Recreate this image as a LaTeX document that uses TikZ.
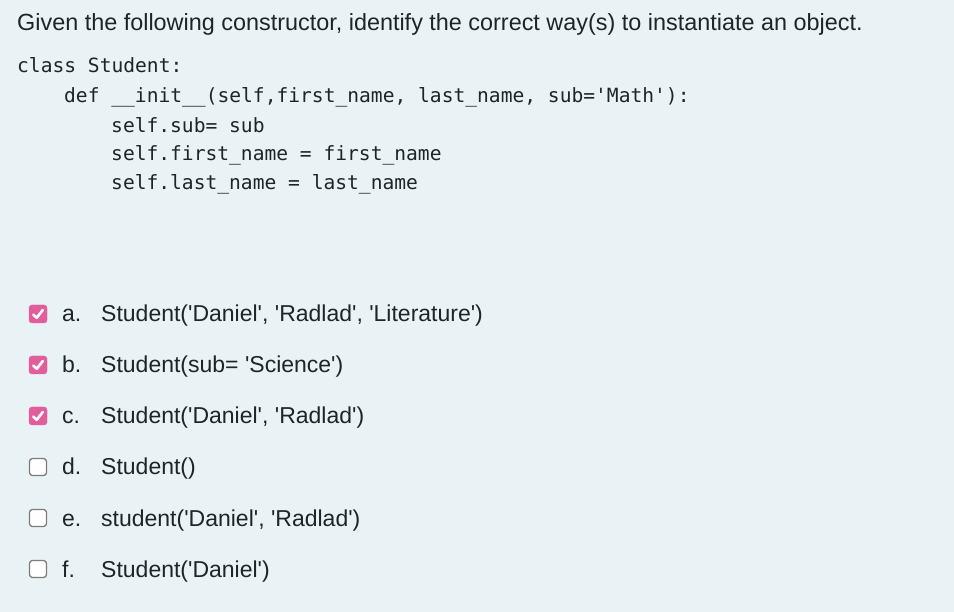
\documentclass[tikz,border=0pt]{standalone}
\usepackage{fontspec}
\setmainfont{Liberation Sans}
\setmonofont{DejaVu Sans Mono}
\definecolor{bgc}{HTML}{E9F2F5}
\definecolor{txt}{HTML}{1B262C}
\definecolor{pinkc}{HTML}{E35D9C}
\definecolor{boxgray}{HTML}{7C7C7C}
\newcommand{\sq}{\textquotesingle}
\begin{document}
\begin{tikzpicture}[x=1pt,y=-1pt,
  title/.style={anchor=base west,inner sep=0pt,text=txt,font=\fontsize{23.4}{27}\selectfont},
  code/.style={anchor=base west,inner sep=0pt,text=txt,font=\ttfamily\fontsize{19.6}{24}\selectfont},
  opt/.style={anchor=base west,inner sep=0pt,text=txt,font=\fontsize{23}{27}\selectfont},
  chk/.style={draw=pinkc,fill=pinkc,rounded corners=3pt,minimum size=18pt,inner sep=0pt},
  unchk/.style={draw=boxgray,line width=1.3pt,fill=white,rounded corners=3pt,minimum size=17pt,inner sep=0pt},
  tick/.style={draw=white,line width=2.6pt,line cap=round,line join=round}]
\fill[bgc] (0,0) rectangle (954,612);
\useasboundingbox (0,0) rectangle (954,612);
\node[title] (q) at (17,31) {Given the following constructor, identify the correct way(s) to instantiate an object.};
\node[code] (c1) at (17,73) {class Student:};
\node[code] (c2) at (64,103) {def \_\_init\_\_(self,first\_name, last\_name, sub=\sq Math\sq):};
\node[code] (c3) at (111,133) {self.sub= sub};
\node[code] (c4) at (111,161) {self.first\_name = first\_name};
\node[code] (c5) at (111,190) {self.last\_name = last\_name};
% options
\foreach \n/\y/\l/\t/\c in {a/314/a./{Student(\sq Daniel\sq, \sq Radlad\sq, \sq Literature\sq)}/1,
                             b/365/b./{Student(sub= \sq Science\sq)}/1,
                             c/416/c./{Student(\sq Daniel\sq, \sq Radlad\sq)}/1,
                             d/467/d./{Student()}/0,
                             e/518/e./{student(\sq Daniel\sq, \sq Radlad\sq)}/0,
                             f/569/f./{Student(\sq Daniel\sq)}/0}{
  \ifnum\c=1
    \node[chk] (box\n) at (38,\y) {};
    \draw[tick] ([shift={(-4.8,0.5)}]box\n.center) -- ([shift={(-1.3,3.8)}]box\n.center) -- ([shift={(4.8,-4)}]box\n.center);
  \else
    \node[unchk] (box\n) at (38,\y) {};
  \fi
  \node[opt] (lab\n) at (62,\y+8) {\l};
  \node[opt] (txt\n) at (101,\y+8) {\t};
}
\end{tikzpicture}
\end{document}
